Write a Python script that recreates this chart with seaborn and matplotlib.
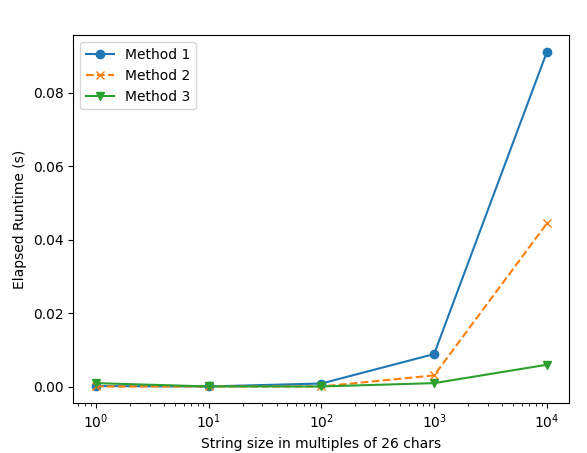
import matplotlib
matplotlib.use("Agg")
import matplotlib.pyplot as plt
import seaborn as sns
import pandas as pd

sizes = [1, 10, 100, 1000, 10000]
method1 = [0.0002, 0.0001, 0.0009, 0.0089, 0.0910]
method2 = [0.0001, 0.0001, 0.0001, 0.0031, 0.0444]
method3 = [0.0010, 0.0001, 0.0001, 0.0010, 0.0060]

fig, ax = plt.subplots(figsize=(5.87, 4.53), dpi=100)
colors = ["#1f77b4", "#ff7f0e", "#2ca02c"]
series = [("Method 1", method1, "o", "-"), ("Method 2", method2, "x", "--"), ("Method 3", method3, "v", "-")]
for (name, vals, m, ls), c in zip(series, colors):
    sns.lineplot(x=sizes, y=vals, ax=ax, label=name, marker=m, linestyle=ls, color=c,
                 markersize=6, markeredgecolor=c, markeredgewidth=1.0, linewidth=1.5)
ax.set_xscale("log")
ax.set_xlabel("String size in multiples of 26 chars")
ax.set_ylabel("Elapsed Runtime (s)")
ax.legend(loc="upper left")
fig.subplots_adjust(left=0.125, right=0.97, top=0.922, bottom=0.11)
fig.savefig("out.png", dpi=100)
